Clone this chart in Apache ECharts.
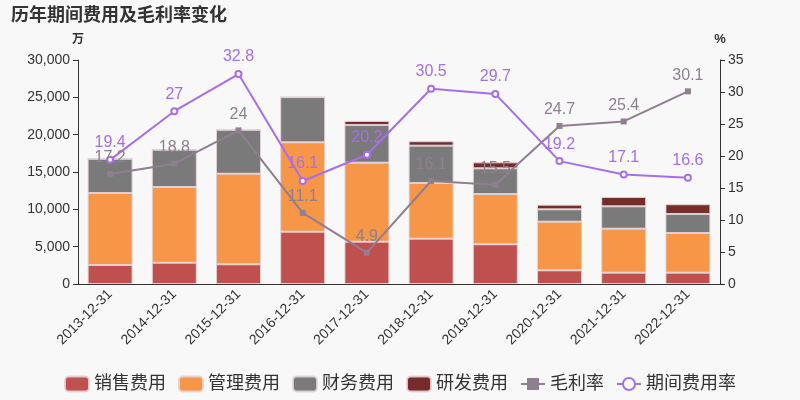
<!DOCTYPE html>
<html>
<head>
<meta charset="utf-8">
<script src="https://cdn.jsdelivr.net/npm/echarts@6/dist/echarts.min.js"></script>
<style>
  html, body { margin: 0; padding: 0; background: #f8f8f8; }
  #chart { width: 800px; height: 400px; }
</style>
</head>
<body>
<div id="chart"></div>
<script>
// 年份
const years = ["2013-12-31", "2014-12-31", "2015-12-31", "2016-12-31", "2017-12-31",
  "2018-12-31", "2019-12-31", "2020-12-31", "2021-12-31", "2022-12-31"];

// 费用 (万)
const sales = [2540, 2850, 2640, 7000, 5670, 6070, 5320, 1830, 1520, 1520];
const admin = [9650, 10140, 12130, 11970, 10580, 7460, 6730, 6520, 5890, 5310];
const finance = [4590, 5000, 5890, 6060, 5050, 5000, 3440, 1650, 2990, 2550];
const rnd = [0, 0, 0, 0, 540, 590, 800, 620, 1250, 1300];

// 比率 (%)
const grossMargin = [17.2, 18.8, 24, 11.1, 4.9, 16.1, 15.5, 24.7, 25.4, 30.1];
const expenseRate = [19.4, 27, 32.8, 16.1, 20.2, 30.5, 29.7, 19.2, 17.1, 16.6];

const chart = echarts.init(document.getElementById("chart"));

const barStyle = (color) => ({
  color: color,
  borderColor: "rgba(225,210,215,0.9)",
  borderWidth: 1
});

const makeBar = (name, data, color) => ({
  name: name,
  type: "bar",
  stack: "fee",
  barWidth: "70%",
  itemStyle: barStyle(color),
  data: data
});

const option = {
  backgroundColor: "#f8f8f8",
  textStyle: { fontFamily: "'Liberation Sans', 'Noto Sans CJK SC', sans-serif" },
  title: {
    text: "历年期间费用及毛利率变化",
    left: 6,
    top: 2,
    textStyle: { fontSize: 18, fontWeight: "bold", color: "#333" }
  },
  grid: { left: 78, right: 80, top: 60, bottom: 116 },
  legend: {
    bottom: 2,
    itemWidth: 24,
    itemHeight: 15,
    itemGap: 12,
    textStyle: { fontSize: 18, color: "#333" },
    data: ["销售费用", "管理费用", "财务费用", "研发费用", "毛利率", "期间费用率"]
  },
  xAxis: {
    type: "category",
    data: years,
    axisLine: { lineStyle: { color: "#333" } },
    axisTick: { lineStyle: { color: "#333" } },
    axisLabel: { rotate: 45, fontSize: 14, color: "#333", interval: 0 }
  },
  yAxis: [
    {
      type: "value",
      name: "万",
      nameGap: 14,
      nameTextStyle: { fontWeight: "bold", color: "#333", fontSize: 12, align: "center" },
      min: 0,
      max: 30000,
      interval: 5000,
      splitLine: { show: false },
      axisLine: { show: true, lineStyle: { color: "#333" } },
      axisTick: { show: true },
      axisLabel: { fontSize: 14, color: "#333" }
    },
    {
      type: "value",
      name: "%",
      nameGap: 14,
      nameTextStyle: { fontWeight: "bold", color: "#333", fontSize: 13, align: "center" },
      min: 0,
      max: 35,
      interval: 5,
      splitLine: { show: false },
      axisLine: { show: true, lineStyle: { color: "#333" } },
      axisTick: { show: true },
      axisLabel: { fontSize: 14, color: "#333" }
    }
  ],
  series: [
    makeBar("销售费用", sales, "#c0504d"),
    makeBar("管理费用", admin, "#f79646"),
    makeBar("财务费用", finance, "#7a7a7a"),
    makeBar("研发费用", rnd, "#772c2a"),
    {
      name: "毛利率",
      type: "line",
      yAxisIndex: 1,
      symbol: "rect",
      symbolSize: 6,
      itemStyle: { color: "#8f7f91" },
      lineStyle: { width: 2, color: "#8f7f91" },
      label: { show: true, position: "top", fontSize: 16, color: "#8f7f91" },
      data: grossMargin
    },
    {
      name: "期间费用率",
      type: "line",
      yAxisIndex: 1,
      symbol: "emptyCircle",
      symbolSize: 6,
      itemStyle: { color: "#a86ee8" },
      lineStyle: { width: 2, color: "#a86ee8" },
      label: { show: true, position: "top", fontSize: 16, color: "#a86ee8" },
      data: expenseRate
    }
  ]
};

chart.setOption(option);
</script>
</body>
</html>
